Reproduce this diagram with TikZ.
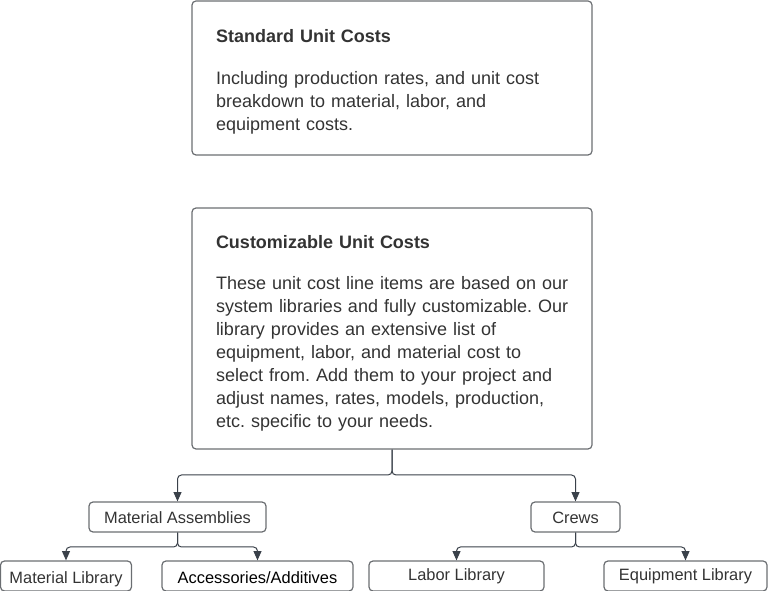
\documentclass[tikz,border=0pt]{standalone}
\usepackage{fontspec}
\setmainfont{Liberation Sans}
\usetikzlibrary{arrows.meta}
\definecolor{boxline}{HTML}{6B6E72}
\definecolor{txt}{HTML}{333333}
\definecolor{conn}{HTML}{3A414A}
\tikzset{
  bigbox/.style={draw=boxline, line width=0.9pt, rounded corners=3pt, minimum width=300pt, text width=264pt, inner xsep=18pt, align=left, text=txt, font=\fontsize{13.5pt}{17.25pt}\selectfont},
  smallbox/.style={draw=boxline, line width=0.9pt, rounded corners=3pt, minimum height=22.5pt, inner sep=0pt, text height=9pt, text depth=2.5pt, text=txt, font=\fontsize{12.3pt}{14pt}\selectfont},
  conn/.style={draw=conn, line width=0.75pt, rounded corners=3pt, -{Triangle[length=7pt,width=6pt]}},
}
\newcommand{\txtline}[1]{\mbox{#1}\\}
\newcommand{\lowtext}[1]{\raisebox{-2.5pt}{#1}}
\begin{document}
\frenchspacing
\begin{tikzpicture}[x=0.75pt,y=-0.75pt]
\useasboundingbox (0,0) rectangle (768,591);
\node[bigbox, minimum height=115.5pt] (std) at (392,78) {\rule{0pt}{15.7pt}\textbf{Standard Unit Costs}\par\vspace{13.75pt}\txtline{Including production rates, and unit cost}\txtline{breakdown to material, labor, and}\mbox{equipment costs.}};
\node[bigbox, minimum height=180.75pt] (cust) at (392,328.5) {\rule{0pt}{17.5pt}\textbf{Customizable Unit Costs}\par\vspace{13.5pt}\txtline{These unit cost line items are based on our}\txtline{system libraries and fully customizable. Our}\txtline{library provides an extensive list of}\txtline{equipment, labor, and material cost to}\txtline{select from. Add them to your project and}\txtline{adjust names, rates, models, production,}\mbox{etc. specific to your needs.}};
\node[smallbox, minimum width=132.75pt] (ma) at (177.5,517) {\raisebox{-2pt}{Material Assemblies}};
\node[smallbox, minimum width=66.75pt] (cr) at (575.5,517) {\raisebox{-2pt}{Crews}};
\node[smallbox, minimum width=98.25pt] (ml) at (66,576) {\lowtext{Material Library}};
\node[smallbox, minimum width=143.25pt, text=black] (acc) at (257.5,576) {\lowtext{Accessories/Additives}};
\node[smallbox, minimum width=131.25pt] (lab) at (456.5,576) {Labor Library};
\node[smallbox, minimum width=122.25pt] (eq) at (685.5,576) {Equipment Library};
\coordinate (j1) at (392,475);
\coordinate (j2) at (177.5,547);
\coordinate (j3) at (575.5,547);
\draw[conn] (cust.south) -- (j1) -| (ma.north);
\draw[conn] (cust.south) -- (j1) -| (cr.north);
\draw[conn] (ma.south) -- (j2) -| (ml.north);
\draw[conn] (ma.south) -- (j2) -| (acc.north);
\draw[conn] (cr.south) -- (j3) -| (lab.north);
\draw[conn] (cr.south) -- (j3) -| (eq.north);
\end{tikzpicture}
\end{document}
